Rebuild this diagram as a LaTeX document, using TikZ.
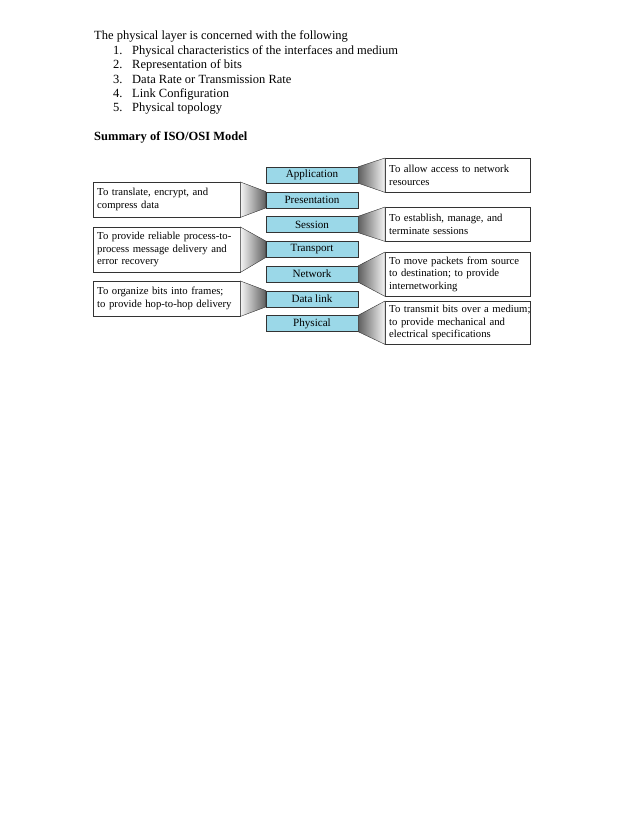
\documentclass[tikz,border=0pt]{standalone}
\usepackage{fontspec}
\setmainfont{Liberation Serif}
\usetikzlibrary{positioning}
\definecolor{osicyan}{RGB}{155,216,232}
\newcommand{\funnel}[4]{%
  \draw[draw=black!80,left color=#3,right color=#4]
    (#1.north east) -- (#2.north west) -- (#2.south west) -- (#1.south east) -- cycle;
}

\begin{document}
\begin{tikzpicture}[x=1pt,y=-1pt,
  every node/.style={font=\fontsize{11.1}{12.7}\selectfont},
  head/.style={anchor=base west,inner sep=0pt,font=\fontsize{12.5}{14.4}\selectfont},
  layer/.style={draw=black!80,fill=osicyan,minimum width=92pt,minimum height=16pt,inner sep=0pt},
  lnote/.style={draw=black!80,fill=white,align=left,anchor=north west,inner xsep=4pt,inner ysep=0pt,text width=139pt,font=\fontsize{10.7}{12.7}\selectfont},
  rnote/.style={lnote,text width=137pt}]
  \useasboundingbox (0,0) rectangle (638,826);
  % introduction and list
  \node[head] (intro) at (94,40) {The physical layer is concerned with the following};
  \foreach \txt [count=\i] in {Physical characteristics of the interfaces and medium,Representation of bits,Data Rate or Transmission Rate,Link Configuration,Physical topology} {
    \node[head] (num\i) at (113,{40+14.4*\i}) {\i.};
    \node[head] (item\i) at (132,{40+14.4*\i}) {\txt};
  }
  \node[head,font=\fontsize{12.5}{14.4}\selectfont\bfseries] (summary) at (94,141) {Summary of ISO/OSI Model};
  % the seven layers
  \foreach \name/\label [count=\i from 0] in {app/Application,pres/Presentation,sess/Session,trans/Transport,net/Network,dlink/Data link,phys/Physical} {
    \node[layer] (\name) at (312,{175+24.75*\i}) {\label};
  }
  % notes on the left
  \node[lnote,minimum height=35pt] (presnote) at (93,182) {\mbox{To translate, encrypt, and}\\\mbox{compress data}};
  \node[lnote,minimum height=45pt] (transnote) at (93,227) {\mbox{To provide reliable process-to-}\\\mbox{process message delivery and}\\\mbox{error recovery}};
  \node[lnote,minimum height=35pt] (dlinknote) at (93,281) {\mbox{To organize bits into frames;}\\\mbox{to provide hop-to-hop delivery}};
  % notes on the right
  \node[rnote,minimum height=34pt] (appnote) at (385,158) {\mbox{To allow access to network}\\\mbox{resources}};
  \node[rnote,minimum height=34pt] (sessnote) at (385,207) {\mbox{To establish, manage, and}\\\mbox{terminate sessions}};
  \node[rnote,minimum height=44pt] (netnote) at (385,252) {\mbox{To move packets from source}\\\mbox{to destination; to provide}\\\mbox{internetworking}};
  \node[rnote,minimum height=43pt] (physnote) at (385,301) {\mbox{To transmit bits over a medium;}\\\mbox{to provide mechanical and}\\\mbox{electrical specifications}};
  % funnels
  \funnel{presnote}{pres}{gray!8}{gray!75!black}
  \funnel{transnote}{trans}{gray!8}{gray!75!black}
  \funnel{dlinknote}{dlink}{gray!8}{gray!75!black}
  \funnel{app}{appnote}{gray!75!black}{gray!8}
  \funnel{sess}{sessnote}{gray!75!black}{gray!8}
  \funnel{net}{netnote}{gray!75!black}{gray!8}
  \funnel{phys}{physnote}{gray!75!black}{gray!8}
\end{tikzpicture}
\end{document}
